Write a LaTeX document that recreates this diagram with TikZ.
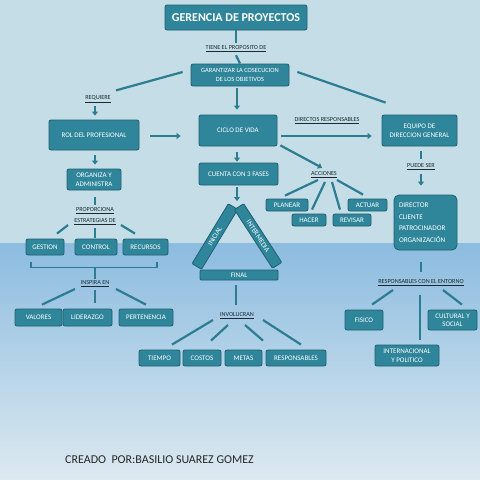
\documentclass[tikz,border=0pt]{standalone}
\usepackage{fontspec}
\setmainfont{Carlito}
\usetikzlibrary{arrows.meta,calc}
\definecolor{bgtop}{HTML}{C5DDE6}
\definecolor{watertop}{HTML}{8CBCE0}
\definecolor{waterbot}{HTML}{DCE9F0}
\definecolor{boxfill}{HTML}{2F869B}
\definecolor{boxline}{HTML}{1E5F70}
\definecolor{conncol}{HTML}{2C7D91}
\definecolor{lblcol}{HTML}{1A2A30}
\begin{document}
\begin{tikzpicture}[x=1pt,y=-1pt,
  box/.style={draw=boxline, line width=0.8pt, fill=boxfill, rounded corners=2pt, text=white,
    font=\fontsize{7}{8.5}\selectfont, align=center, inner sep=0pt},
  lbl/.style={text=lblcol, font=\fontsize{6.2}{11}\selectfont, align=center, inner sep=1pt},
  conn/.style={draw=conncol, line width=2.2pt},
  arr/.style={conn, -{Triangle[width=6pt,length=4pt]}},
  bar/.style={box, rounded corners=1pt, font=\fontsize{7}{7}\selectfont}]
\useasboundingbox (0,0) rectangle (480,480);
\fill[bgtop] (0,0) rectangle (480,243);
\shade[top color=watertop, bottom color=waterbot] (0,243) rectangle (480,480);

% nodes
\node[box, minimum width=142, minimum height=25, font=\bfseries\fontsize{12}{13}\selectfont] (ger) at (236,17.5) {GERENCIA DE PROYECTOS};
\node[lbl] (tiene) at (236,49) {\underline{TIENE EL PROPOSITO DE}};
\node[box, minimum width=98, minimum height=22, font=\fontsize{6.4}{8.5}\selectfont] (gar) at (240,75) {GARANTIZAR LA COSECUCION\\DE LOS OBJETIVOS};
\node[lbl] (req) at (98,99) {\underline{REQUIERE}};
\node[box, minimum width=90, minimum height=30] (rol) at (94,135) {ROL DEL PROFESIONAL};
\node[box, minimum width=78, minimum height=31] (ciclo) at (238,130.5) {CICLO DE VIDA};
\node[lbl] (dir) at (327,121) {\underline{DIRECTOS RESPONSABLES}};
\node[box, minimum width=75, minimum height=31] (equipo) at (419.5,130.5) {EQUIPO DE\\DIRECCION GENERAL};
\node[box, minimum width=79, minimum height=22] (cuenta) at (238.5,174) {CUENTA CON 3 FASES};
\node[lbl] (acc) at (324,175) {\underline{ACCIONES}};
\node[box, minimum width=54, minimum height=21] (org) at (94,179.5) {ORGANIZA Y\\ADMINISTRA};
\node[lbl] (prop) at (95,216.5) {\underline{PROPORCIONA}\\\underline{ESTRATEGIAS DE}};
\node[box, minimum width=38, minimum height=16] (gestion) at (45,247) {GESTION};
\node[box, minimum width=42, minimum height=16] (control) at (96,247) {CONTROL};
\node[box, minimum width=45, minimum height=16] (recursos) at (145.5,247) {RECURSOS};
\node[lbl] (insp) at (95,284) {\underline{INSPIRA EN}};
\node[box, minimum width=47, minimum height=17] (valores) at (38.5,317.5) {VALORES};
\node[box, minimum width=49, minimum height=17] (lider) at (87.5,317.5) {LIDERAZGO};
\node[box, minimum width=54, minimum height=17] (pert) at (146,317.5) {PERTENENCIA};
\node[box, minimum width=42, minimum height=12] (planear) at (287,205) {PLANEAR};
\node[box, minimum width=34, minimum height=12] (hacer) at (309,220) {HACER};
\node[box, minimum width=38, minimum height=12] (revisar) at (352,220) {REVISAR};
\node[box, minimum width=39, minimum height=12] (actuar) at (367.5,205) {ACTUAR};
\node[lbl] (puede) at (421,167) {\underline{PUEDE SER}};
\node[box, minimum width=63, minimum height=55, rounded corners=5pt, text width=53, align=left,
  font=\fontsize{7.2}{11.5}\selectfont] (director) at (425.5,222.5) {DIRECTOR\\CLIENTE\\PATROCINADOR\\ORGANIZACIÓN};
\node[lbl] (resp) at (421,283) {\underline{RESPONSABLES CON EL ENTORNO}};
\node[box, minimum width=38, minimum height=20] (fisico) at (364,320) {FISICO};
\node[box, minimum width=49, minimum height=20] (cultural) at (452.5,320) {CULTURAL Y\\SOCIAL};
\node[box, minimum width=64, minimum height=21] (inter) at (407,355.5) {INTERNACIONAL\\Y POLITICO};
\node[lbl] (invol) at (237,316) {\underline{INVOLUCRAN}};
\node[box, minimum width=41, minimum height=16] (tiempo) at (159.5,358) {TIEMPO};
\node[box, minimum width=38, minimum height=16] (costos) at (202,358) {COSTOS};
\node[box, minimum width=37, minimum height=16] (metas) at (243.5,358) {METAS};
\node[box, minimum width=60, minimum height=16] (respon) at (296,358) {RESPONSABLES};

% triangle
\node[bar, minimum width=70, minimum height=11, rotate=58.8] (inicial) at (214.9,236.5) {INICIAL};
\node[bar, minimum width=70, minimum height=11, rotate=-57] (interm) at (258.1,236) {INTERMEDIA};
\node[bar, minimum width=78, minimum height=10] (final) at (239,275) {FINAL};
\coordinate (tritop) at (237,201);

% footer
\node[anchor=west, inner sep=0pt, font=\fontsize{12}{13}\selectfont, text=black!85] (cred) at (65,460) {CREADO\ \ POR:BASILIO SUAREZ GOMEZ};

% connectors
\draw[conn] (ger.south) -- ([shift={(0,-2)}]tiene.north);
\draw[conn] ([shift={(0,2)}]tiene.south) -- (gar.north);
\draw[conn] ([shift={(-8,-3)}]gar.west) -- ([shift={(18,-4)}]req.north);
\draw[conn] ([shift={(8,-3)}]gar.east) -- ([shift={(4,-12)}]equipo.north west);
\draw[arr] ([shift={(-3,2)}]gar.south) -- ([shift={(-1,-5)}]ciclo.north);
\draw[arr] ([shift={(-3,2)}]req.south) -- ([shift={(1,-4)}]rol.north);
\draw[arr] ([shift={(11,1)}]rol.east) -- ([shift={(-18,5.5)}]ciclo.west);
\draw[arr] ([shift={(4,5.5)}]ciclo.east) -- ([shift={(-10,5.5)}]equipo.west);
\draw[arr] ([shift={(3,-1)}]ciclo.south east) -- ([shift={(-2,-3)}]acc.north);
\draw[arr] ([shift={(-1,6)}]ciclo.south) -- ([shift={(-1.5,-1)}]cuenta.north);
\draw[arr] ([shift={(1,5)}]rol.south) -- ([shift={(1,-4)}]org.north);
\draw[conn] ([shift={(1,7)}]org.south) -- ([shift={(0,-2)}]prop.north);
\draw[conn] ([shift={(-27,8.5)}]prop.center) -- ([shift={(12,-5)}]gestion.north);
\draw[conn] ([shift={(0,2)}]prop.south) -- ([shift={(-1,-1)}]control.north);
\draw[conn] ([shift={(26,8.5)}]prop.center) -- ([shift={(-10.5,-5)}]recursos.north);
\draw[conn, line width=1.6pt] ([shift={(-14,7)}]gestion.south) -- ++(0,5) -| ([shift={(11.5,7)}]recursos.south);
\draw[conn, line width=1.6pt] ([shift={(-1,12)}]control.south) -- ([shift={(0,-1)}]insp.north);
\draw[conn] ([shift={(-20,5)}]insp.center) -- ([shift={(3.5,-4)}]valores.north);
\draw[conn] ([shift={(0,6)}]insp.center) -- ([shift={(7.5,-6)}]lider.north);
\draw[conn] ([shift={(21,5)}]insp.center) -- ([shift={(0,-4)}]pert.north);
\draw[arr] ([shift={(-1.5,2)}]cuenta.south) -- (tritop);
\draw[conn] ([shift={(-3,5)}]final.south) -- ([shift={(-1,-7)}]invol.north);
\draw[conn] ([shift={(-24,4)}]invol.center) -- ([shift={(12.5,-5)}]tiempo.north);
\draw[conn] ([shift={(-9,9)}]invol.center) -- ([shift={(9,-9)}]costos.north);
\draw[conn] ([shift={(8,9)}]invol.center) -- ([shift={(19.5,-9)}]metas.north);
\draw[conn] ([shift={(26,4)}]invol.center) -- ([shift={(5,-5)}]respon.north);
\draw[conn] ([shift={(-6,5)}]acc.center) -- ([shift={(-2,-3)}]planear.north);
\draw[conn] ([shift={(1,7)}]acc.center) -- ([shift={(3,-4)}]hacer.north);
\draw[conn] ([shift={(8,7)}]acc.center) -- ([shift={(-12,-4)}]revisar.north);
\draw[conn] ([shift={(13,5)}]acc.center) -- ([shift={(-4.5,-4)}]actuar.north);
\draw[conn] ([shift={(1.5,5)}]equipo.south) -- ([shift={(0,-4)}]puede.north);
\draw[arr] ([shift={(0,3)}]puede.south) -- ([shift={(-4.5,-9)}]director.north);
\draw[conn] ([shift={(-4.5,12)}]director.south) -- ([shift={(0,-7)}]resp.north);
\draw[conn] ([shift={(-28,7)}]resp.center) -- ([shift={(8,-5)}]fisico.north);
\draw[conn] ([shift={(-1,12)}]resp.center) -- ([shift={(13,-5)}]inter.north);
\draw[conn] ([shift={(22,7)}]resp.center) -- ([shift={(9.5,-5)}]cultural.north);
\end{tikzpicture}
\end{document}
